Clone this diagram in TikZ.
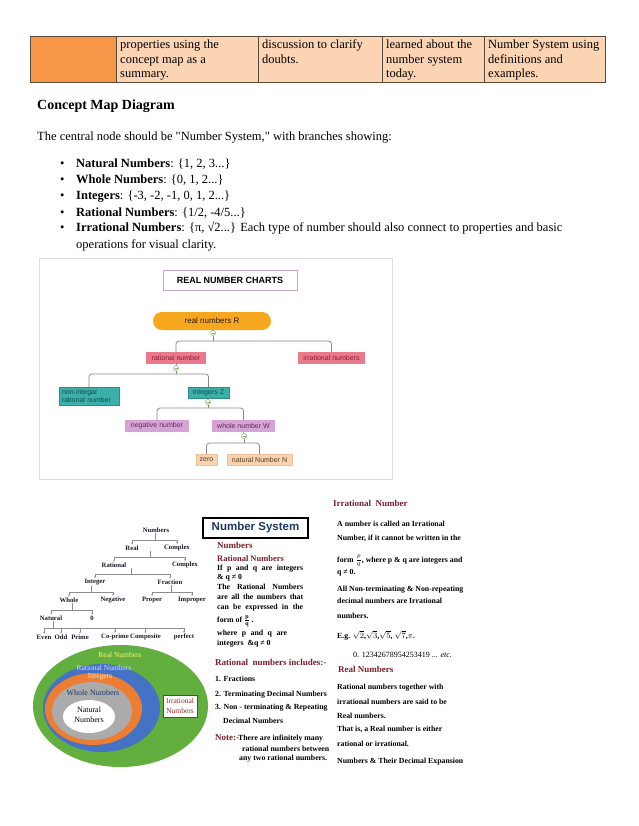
\documentclass[tikz,border=0pt]{standalone}
\usepackage{fontspec}
\setmainfont{Liberation Serif}
\setsansfont{Liberation Sans}
\newfontfamily\rawq{Liberation Serif}[Ligatures=TeXOff]
\usetikzlibrary{arrows.meta,calc}
\definecolor{tblorange}{HTML}{F79646}
\definecolor{tblpeach}{HTML}{FBD4B4}
\definecolor{tblline}{HTML}{5A4A3A}
\definecolor{pillc}{HTML}{F6A71E}
\definecolor{ratred}{HTML}{E9798B}
\definecolor{ratredtxt}{HTML}{8A1E30}
\definecolor{tealc}{HTML}{3BB0AA}
\definecolor{tealtxt}{HTML}{0F4A46}
\definecolor{lilac}{HTML}{D7A3D6}
\definecolor{lilactxt}{HTML}{5E2A5E}
\definecolor{peachc}{HTML}{F9D3B0}
\definecolor{peachtxt}{HTML}{5A3A20}
\definecolor{connc}{HTML}{8A8A8A}
\definecolor{circg}{HTML}{7FB36A}
\definecolor{titleb}{HTML}{C9A6C9}
\definecolor{chartb}{HTML}{DDDDDD}
\definecolor{treeline}{HTML}{8C8C8C}
\definecolor{treetext}{HTML}{1A1A2A}
\definecolor{ellgreen}{HTML}{62AE3E}
\definecolor{ellblue}{HTML}{4472C4}
\definecolor{ellorange}{HTML}{ED7D31}
\definecolor{ellgray}{HTML}{ABABAB}
\definecolor{maroon}{HTML}{7A1F2B}
\definecolor{navyc}{HTML}{1F3864}
\definecolor{irrred}{HTML}{A0282A}
\begin{document}
\begin{tikzpicture}[x=1pt,y=-1pt,
  body/.style={font=\fontsize{12.5}{15}\selectfont, anchor=base west, inner sep=0pt},
  head/.style={font=\fontsize{14}{16}\selectfont\bfseries, anchor=base west, inner sep=0pt},
  cbox/.style={inner sep=0pt, font=\sffamily\fontsize{7}{8}\selectfont},
  conn/.style={draw=connc, line width=0.8pt},
  mini/.style={circle, draw=circg, fill=white, line width=0.5pt, inner sep=0pt, minimum size=5pt},
  tl/.style={draw=treeline, line width=0.5pt},
  tla/.style={tl, -{Stealth[length=2pt,width=1.6pt]}},
  tn/.style={font=\fontsize{6.7}{7}\selectfont\bfseries, inner sep=0.8pt, text=treetext},
  sm/.style={font=\fontsize{7.8}{9}\selectfont\bfseries, anchor=base west, inner sep=0pt, text=black},
  smt/.style={font=\fontsize{9}{10}\selectfont\bfseries, anchor=base west, inner sep=0pt, text=maroon},
  ell/.style={font=\fontsize{7.5}{8.5}\selectfont, inner sep=0pt}
]
\useasboundingbox[fill=white] (0,0) rectangle (638,826);

% ---------------- table row ----------------
\path[draw=tblline, line width=0.8pt, fill=tblorange] (30,36) rectangle (116,82);
\path[draw=tblline, line width=0.8pt, fill=tblpeach] (116,36) rectangle (258,82);
\path[draw=tblline, line width=0.8pt, fill=tblpeach] (258,36) rectangle (382,82);
\path[draw=tblline, line width=0.8pt, fill=tblpeach] (382,36) rectangle (484,82);
\path[draw=tblline, line width=0.8pt, fill=tblpeach] (484,36) rectangle (605,82);
\node[body] (t1a) at (120,49) {properties using the};
\node[body] (t1b) at (120,63.5) {concept map as a};
\node[body] (t1c) at (120,78) {summary.};
\node[body] (t2a) at (262,49) {discussion to clarify};
\node[body] (t2b) at (262,63.5) {doubts.};
\node[body] (t3a) at (386,49) {learned about the};
\node[body] (t3b) at (386,63.5) {number system};
\node[body] (t3c) at (386,78) {today.};
\node[body] (t4a) at (488,49) {Number System using};
\node[body] (t4b) at (488,63.5) {definitions and};
\node[body] (t4c) at (488,78) {examples.};

% ---------------- heading and bullets ----------------
\node[head] (hd) at (37,110) {Concept Map Diagram};
\node[body] (intro) at (37,141) {The central node should be {\rawq"}Number System,{\rawq"} with branches showing:};
\node[body] (b1) at (60,168) {\textbullet};
\node[body] (l1) at (76,168) {\textbf{Natural Numbers}: \{1, 2, 3...\}};
\node[body] (b2) at (60,184) {\textbullet};
\node[body] (l2) at (76,184) {\textbf{Whole Numbers}: \{0, 1, 2...\}};
\node[body] (b3) at (60,200) {\textbullet};
\node[body] (l3) at (76,200) {\textbf{Integers}: \{-3, -2, -1, 0, 1, 2...\}};
\node[body] (b4) at (60,216) {\textbullet};
\node[body] (l4) at (76,216) {\textbf{Rational Numbers}: \{1/2, -4/5...\}};
\node[body] (b5) at (60,232) {\textbullet};
\node[body] (l5) at (76,232) {\textbf{Irrational Numbers}: \{π, √2...\} Each type of number should also connect to properties and basic};
\node[body] (l6) at (76,248) {operations for visual clarity.};

% ---------------- real number chart ----------------
\path[draw=chartb, line width=0.8pt] (39,258) rectangle (392,479);
\node[draw=titleb, line width=0.8pt, fill=white, minimum width=134pt, minimum height=20pt, inner sep=0pt,
      font=\sffamily\bfseries\fontsize{9}{10}\selectfont] (title) at (230,280) {REAL NUMBER CHARTS};
\node[cbox, fill=pillc, rounded corners=9pt, minimum width=118pt, minimum height=18pt, text=black!80!brown,
      font=\sffamily\fontsize{8}{9}\selectfont] (R) at (212,321) {real numbers R};
\node[cbox, fill=ratred, minimum width=60pt, minimum height=12pt, text=ratredtxt] (rat) at (176,358) {rational number};
\node[cbox, fill=ratred, minimum width=67pt, minimum height=12pt, text=ratredtxt] (irr) at (331.5,358) {irrational numbers};
\node[cbox, fill=tealc, draw=tealc!80!black, line width=0.4pt, minimum width=60pt, minimum height=18pt, text=tealtxt,
      align=left, text width=54pt] (nonint) at (89,396) {non-integar\\rational number};
\node[cbox, fill=tealc, draw=tealc!80!black, line width=0.4pt, minimum width=41pt, minimum height=11pt, text=tealtxt] (intZ) at (208.5,392.5) {integers Z};
\node[cbox, fill=lilac, minimum width=64pt, minimum height=12pt, text=lilactxt] (neg) at (157,426) {negative number};
\node[cbox, fill=lilac, minimum width=63pt, minimum height=12pt, text=lilactxt] (wholeW) at (243.5,426) {whole number W};
\node[cbox, fill=peachc, draw=peachc!80!brown, line width=0.4pt, minimum width=21pt, minimum height=11pt, text=peachtxt] (zero) at (206.5,459.5) {zero};
\node[cbox, fill=peachc, draw=peachc!80!brown, line width=0.4pt, minimum width=65pt, minimum height=11pt, text=peachtxt] (natN) at (259.5,459.5) {natural Number N};

\node[mini] (c1) at (213,333) {};
\node[mini] (c2) at (176,368) {};
\node[mini] (c3) at (208,402) {};
\node[mini] (c4) at (244,436) {};
\foreach \c in {c1,c2,c3,c4}{
  \draw[circg, line width=0.5pt] ($(\c.center)+(-1.5,0)$) -- ($(\c.center)+(1.5,0)$);
}
\coordinate (k1) at (213,341);
\coordinate (k2) at (176,374);
\coordinate (k3) at (208,408);
\coordinate (k4) at (244,443);
\draw[conn] (R.south) -- (c1.north);
\draw[conn] (c1.south) -- (k1);
\draw[conn, rounded corners=3pt] (k1) -| (rat.north);
\draw[conn, rounded corners=3pt] (k1) -| (irr.north);
\draw[conn] (rat.south) -- (c2.north);
\draw[conn] (c2.south) -- (k2);
\draw[conn, rounded corners=3pt] (k2) -| (nonint.north);
\draw[conn, rounded corners=3pt] (k2) -| (intZ.north);
\draw[conn] (intZ.south) -- (c3.north);
\draw[conn] (c3.south) -- (k3);
\draw[conn, rounded corners=3pt] (k3) -| (neg.north);
\draw[conn, rounded corners=3pt] (k3) -| (wholeW.north);
\draw[conn] (wholeW.south) -- (c4.north);
\draw[conn] (c4.south) -- (k4);
\draw[conn, rounded corners=3pt] (k4) -| (zero.north);
\draw[conn, rounded corners=3pt] (k4) -| (natN.north);

% ---------------- numbers tree ----------------
\node[tn] (numbers) at (156,530) {Numbers};
\node[tn] (real) at (132,548) {Real};
\node[tn] (cx1) at (177,548) {Complex};
\node[tn] (rational) at (114,565) {Rational};
\node[tn] (cx2) at (185,565) {Complex};
\node[tn] (integer) at (95,582) {Integer};
\node[tn] (fraction) at (170,582) {Fraction};
\node[tn] (whole) at (69,600) {Whole};
\node[tn] (negative) at (113,600) {Negative};
\node[tn] (proper) at (152,600) {Proper};
\node[tn] (improper) at (192,600) {Improper};
\node[tn] (natural) at (51,618) {Natural};
\node[tn] (zero0) at (92,618) {0};
\node[tn] (even) at (44,637) {Even};
\node[tn] (odd) at (61,637) {Odd};
\node[tn] (prime) at (80,637) {Prime};
\node[tn] (coprime) at (115,637) {Co-prime};
\node[tn] (composite) at (145.5,637) {Composite};
\node[tn] (perfect) at (184,637) {perfect};

\coordinate (s1) at (155,540);
\coordinate (s2) at (150,557);
\coordinate (s3) at (131,574);
\coordinate (s4) at (91,592);
\coordinate (s5) at (171,592);
\coordinate (s6) at (72,610);
\coordinate (s7) at (53,628);
\draw[tl] (numbers.south -| s1) -- (s1);
\draw[tla] (s1) -| (real.north);
\draw[tla] (s1) -| (cx1.north);
\draw[tl] (real.south -| s2) -- (s2);
\draw[tla] (s2) -| (rational.north);
\draw[tla] (s2) -| (cx2.north);
\draw[tl] (rational.south -| s3) -- (s3);
\draw[tla] (s3) -| (integer.north);
\draw[tla] (s3) -| (fraction.north);
\draw[tl] (integer.south -| s4) -- (s4);
\draw[tla] (s4) -| (whole.north);
\draw[tla] (s4) -| (negative.north);
\draw[tl] (fraction.south -| s5) -- (s5);
\draw[tla] (s5) -| (proper.north);
\draw[tla] (s5) -| (improper.north);
\draw[tl] (whole.south -| s6) -- (s6);
\draw[tla] (s6) -| (natural.north);
\draw[tla] (s6) -| (zero0.north);
\draw[tl] (natural.south -| s7) -- (s7);
\foreach \n in {even,odd,prime,coprime,composite,perfect}{
  \draw[tla] (s7) -| (\n.north);
}

% ---------------- nested ellipses ----------------
\fill[ellgreen] (120.5,706) ellipse [x radius=87.5, y radius=61];
\fill[ellblue] (101.5,708) ellipse [x radius=58.5, y radius=44];
\fill[ellorange] (93.5,709) ellipse [x radius=48.5, y radius=36];
\fill[ellgray] (92,711) ellipse [x radius=40, y radius=29];
\fill[white] (89,716.5) ellipse [x radius=26, y radius=16.5];
\node[ell, text=yellow!60!white] (eReal) at (120,655) {Real Numbers};
\node[ell, text=blue!15!white] (eRat) at (104,668) {Rational Numbers};
\node[ell, text=orange!20!white] (eInt) at (100,677) {Integers};
\node[ell, text=navyc, font=\fontsize{8}{9}\selectfont] (eWhole) at (93,693) {Whole Numbers};
\node[ell, align=center, font=\fontsize{8}{10}\selectfont] (eNat) at (89,715) {Natural\\Numbers};
\node[ell, draw=irrred, fill=white, line width=0.6pt, align=center, text=irrred, minimum width=34pt, minimum height=22pt,
      font=\fontsize{7.5}{9.5}\selectfont] (eIrr) at (180,706) {Irrational\\Numbers};

% ---------------- middle column ----------------
\node[draw=black, line width=1.5pt, fill=white, minimum width=105pt, minimum height=20pt, inner sep=0pt,
      text=navyc, font=\sffamily\bfseries\fontsize{11.5}{12}\selectfont] (nsys) at (255.5,528) {Number System};
\node[smt] (mNum) at (217,548) {Numbers};
\node[smt, font=\fontsize{8.5}{9}\selectfont\bfseries] (mRat) at (217,561) {Rational Numbers};
\node[sm] (m1) at (217,570) {\makebox[86pt][s]{If p and q are integers}};
\node[sm] (m2) at (217,579) {\& q ≠ 0};
\node[sm] (m3) at (217,589) {\makebox[86pt][s]{The Rational Numbers}};
\node[sm] (m4) at (217,599) {\makebox[86pt][s]{are all the numbers that}};
\node[sm] (m5) at (217,609) {\makebox[86pt][s]{can be expressed in the}};
\node[sm] (m6) at (217,622) {form of \smash{\fontsize{8.5}{9}\selectfont$\frac{\mathbf{p}}{\mathbf{q}}$} .};
\node[sm] (m7) at (217,635) {\makebox[70pt][s]{where p and q are}};
\node[sm] (m8) at (217,645.5) {integers \ \&q ≠ 0};
\node[smt] (mInc) at (215,665) {Rational\ \ numbers includes:-};
\node[sm] (n1) at (215,681) {1. Fractions};
\node[sm] (n2) at (215,696) {2. Terminating Decimal Numbers};
\node[sm] (n3) at (215,709) {3. Non - terminating \& Repeating};
\node[sm] (n4) at (223,723) {Decimal Numbers};
\node[smt] (note) at (215,740) {Note:-};
\node[sm] (note1) at (238,740) {There are infinitely many};
\node[sm] (note2) at (242,751) {rational numbers between};
\node[sm] (note3) at (239,760) {any two rational numbers.};

% ---------------- right column ----------------
\node[smt] (irrH) at (333,506) {Irrational\ \ Number};
\node[sm] (r1) at (337,526) {A number is called an Irrational};
\node[sm] (r2) at (337,540) {Number, if it cannot be written in the};
\node[sm] (r3) at (337,562) {form \smash{\fontsize{9}{9}\selectfont$\frac{p}{q}$}, where p \& q are integers and};
\node[sm] (r4) at (337,574) {q ≠ 0.};
\node[sm] (r5) at (337,591) {All Non-terminating \& Non-repeating};
\node[sm] (r6) at (337,603) {decimal numbers are Irrational};
\node[sm] (r7) at (337,618) {numbers.};
\node[sm] (r8) at (337,638) {E.g. $\sqrt{2}$,$\sqrt{3}$,$\sqrt{5}$, $\sqrt{7}$,$\pi$.};
\node[sm, font=\fontsize{8}{9}\selectfont] (r9) at (353,657) {0. 12342678954253419 ... \textit{etc.}};
\node[smt] (realH) at (338,672) {Real Numbers};
\node[sm] (r10) at (337,689) {Rational numbers together with};
\node[sm] (r11) at (337,704) {irrational numbers are said to be};
\node[sm] (r12) at (337,718) {Real numbers.};
\node[sm] (r13) at (337,731) {That is, a Real number is either};
\node[sm] (r14) at (337,746) {rational or irrational.};
\node[sm] (r15) at (337,763) {Numbers \& Their Decimal Expansion};
\end{tikzpicture}
\end{document}
